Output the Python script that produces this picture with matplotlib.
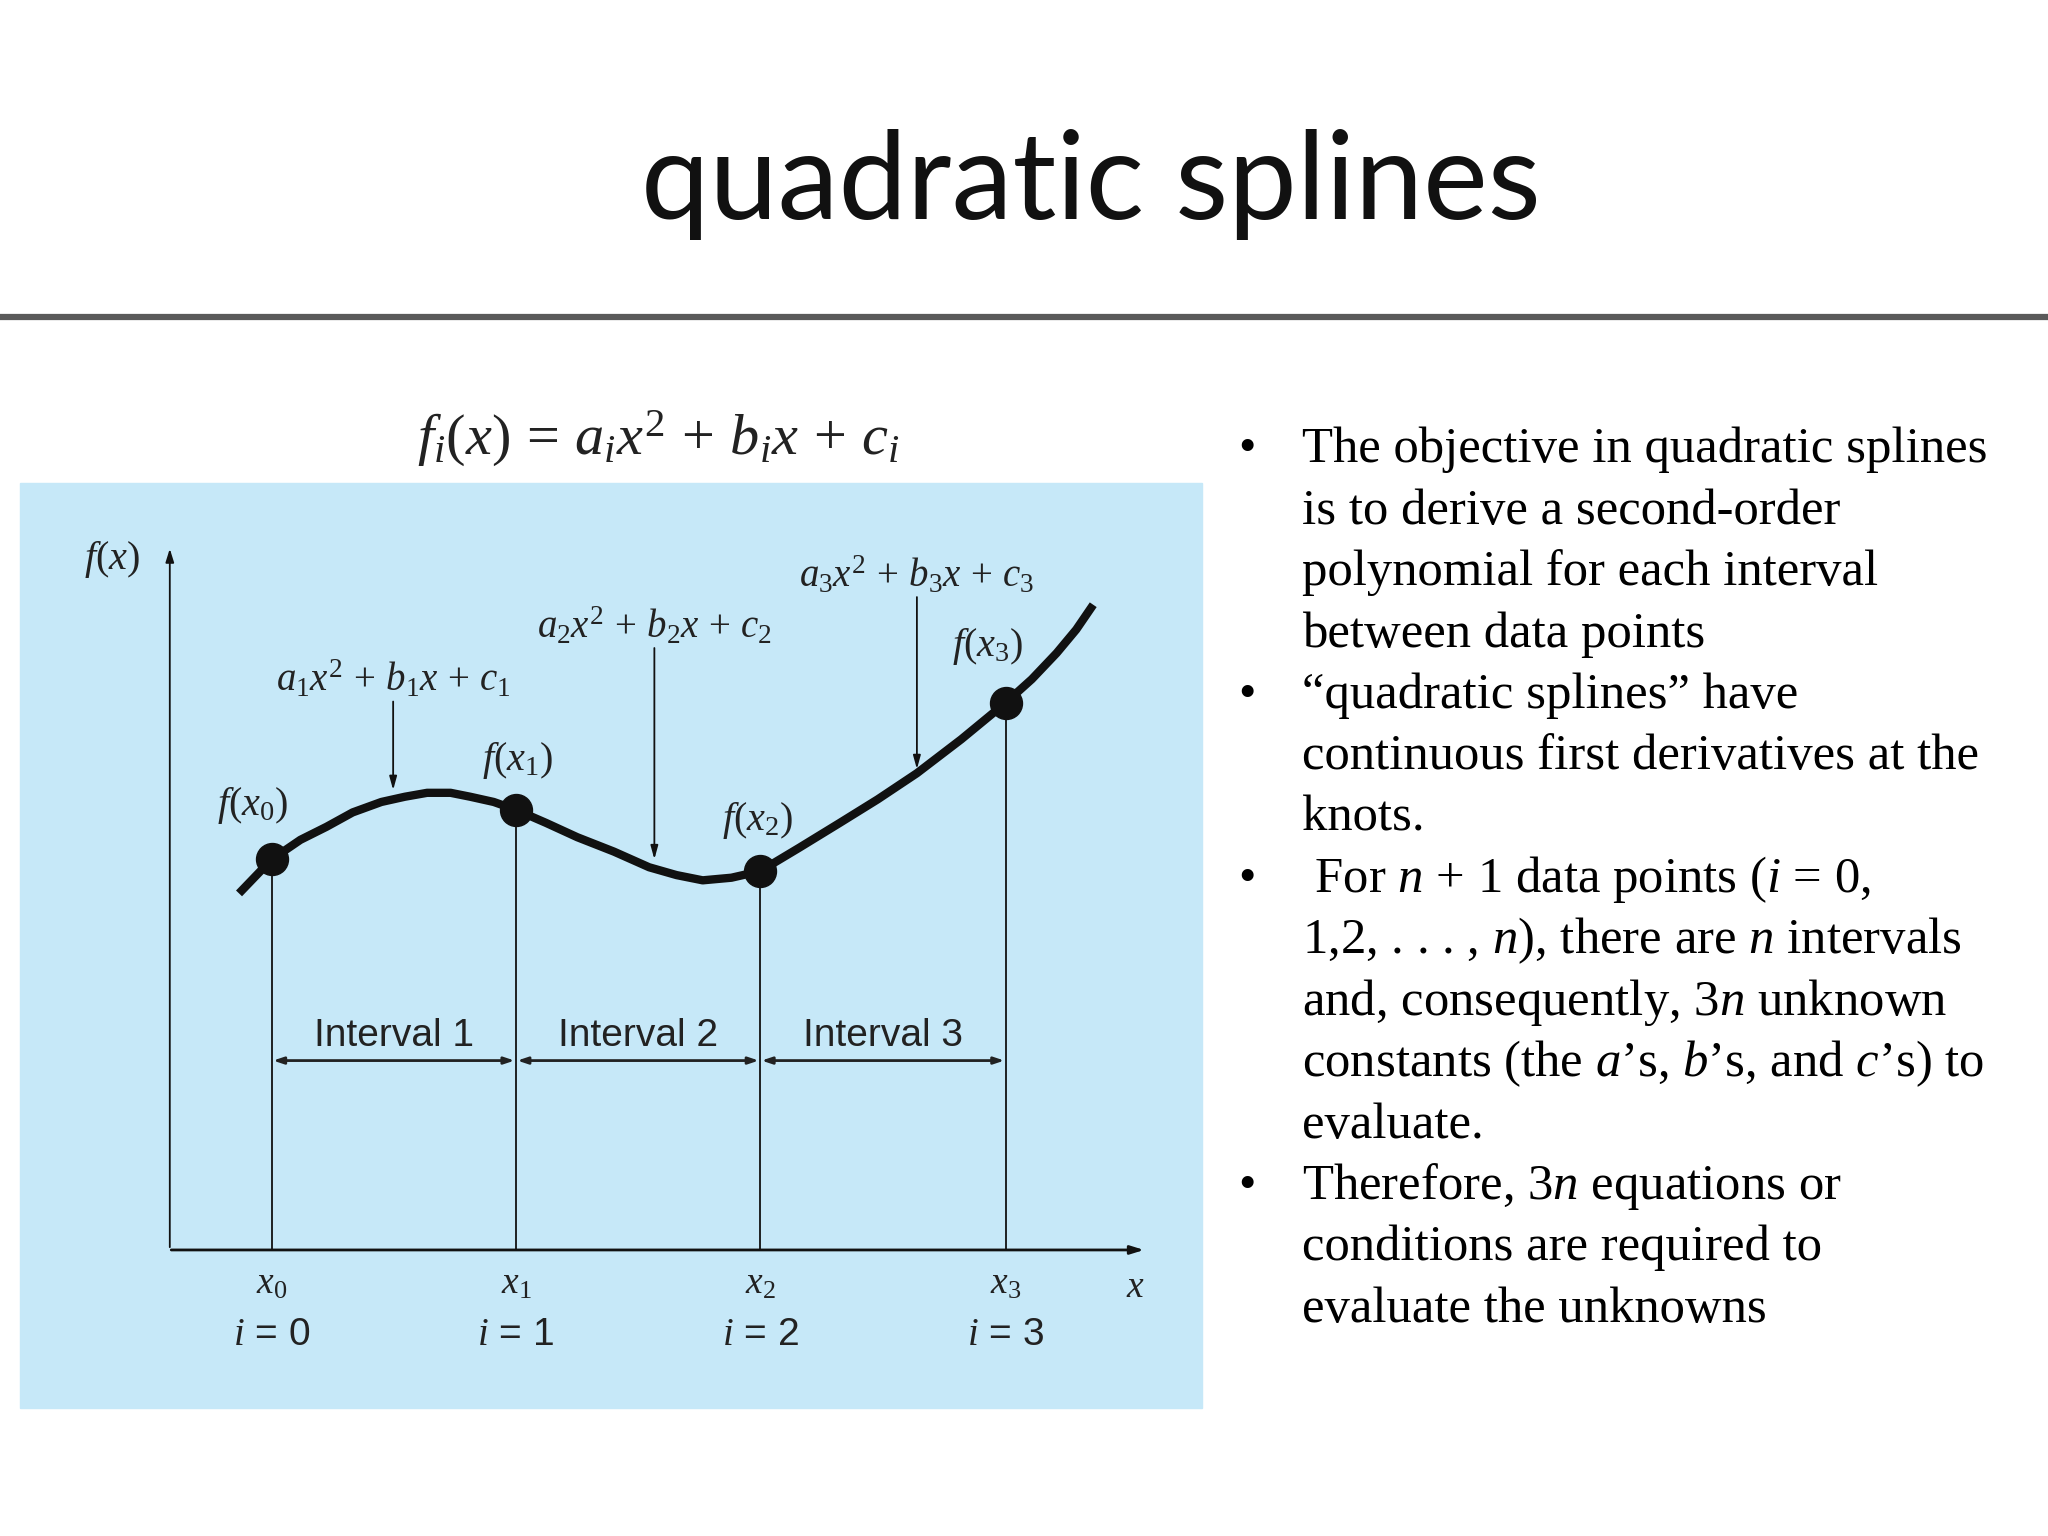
import numpy as np
import matplotlib.pyplot as plt

plt.rcParams['mathtext.fontset'] = 'custom'
plt.rcParams['mathtext.rm'] = 'Liberation Serif'
plt.rcParams['mathtext.it'] = 'Liberation Serif:italic'

# diagram data (slide coordinates, 1568 x 1176 layout)
knot_x = [208, 395, 582, 770]
knot_y = [658, 620, 667, 538]
knot_names = ['$x_0$', '$x_1$', '$x_2$', '$x_3$']
knot_index = ['$i$ = 0', '$i$ = 1', '$i$ = 2', '$i$ = 3']
fx_labels = ['$f(x_0)$', '$f(x_1)$', '$f(x_2)$', '$f(x_3)$']
fx_label_x = [193, 396, 580, 756]
fx_label_y = [617, 582, 628, 495]

curve_x = [183, 208, 230, 250, 270, 292, 310, 327, 345, 360, 378, 395, 418, 442, 470, 497,
           518, 538, 560, 582, 612, 643, 672, 702, 736, 770, 790, 809, 824, 837]
curve_y = [684, 658, 643, 633, 622, 614, 610, 607, 607, 610, 614, 620, 630, 641, 652, 664,
           670, 674, 672, 667, 649, 630, 612, 592, 566, 538, 520, 500, 482, 463]

poly_labels = [r'$a_1x^2 \,+\, b_1x \,+\, c_1$', r'$a_2x^2 \,+\, b_2x \,+\, c_2$',
               r'$a_3x^2 \,+\, b_3x \,+\, c_3$']
poly_x = [301, 501, 702]
poly_text_y = [520, 479, 440]
poly_tip_y = [607, 660, 591]

interval_labels = ['Interval 1', 'Interval 2', 'Interval 3']

bullets = [
    ('•', 'The objective in quadratic splines'),
    ('', 'is to derive a second-order'),
    ('', 'polynomial for each interval'),
    ('', 'between data points'),
    ('•', '“quadratic splines” have'),
    ('', 'continuous first derivatives at the'),
    ('', 'knots.'),
    ('•', ' For $n$ + 1 data points ($i$ = 0,'),
    ('', '1,2, . . . , $n$), there are $n$ intervals'),
    ('', 'and, consequently, 3$n$ unknown'),
    ('', 'constants (the $a$’s, $b$’s, and $c$’s) to'),
    ('', 'evaluate.'),
    ('•', 'Therefore, 3$n$ equations or'),
    ('', 'conditions are required to'),
    ('', 'evaluate the unknowns'),
]

fig = plt.figure(figsize=(20.48, 15.36), dpi=100)
ax = fig.add_axes([0, 0, 1, 1])
ax.set_xlim(0, 1568)
ax.set_ylim(1176, 0)
ax.axis('off')

# title and rule
ax.text(835, 168, 'quadratic splines', ha='center', va='baseline',
        fontsize=88, family='Lato', color='#111111')
ax.plot([0, 1568], [243, 243], color='#5a5a5a', lw=4.5, solid_capstyle='butt')

# formula above the figure
ax.text(504, 348, r'$f_i(x) \,=\, a_i x^2 \,+\, b_i x \,+\, c_i$', ha='center', va='baseline',
        fontsize=42, color='#222222')

# blue panel
ax.add_patch(plt.Rectangle((15, 370), 905, 708, color='#c6e8f8', zorder=0))

thin = dict(color='#111111', lw=1.3)
# axes of the sketch
ax.annotate('', xy=(130, 418), xytext=(130, 957),
            arrowprops=dict(arrowstyle='-|>,head_length=0.8,head_width=0.25', color='#111111', lw=1.3))
ax.annotate('', xy=(878, 957), xytext=(129, 957),
            arrowprops=dict(arrowstyle='-|>,head_length=0.8,head_width=0.25', color='#111111', lw=2.0))
ax.text(86, 428, '$f(x)$', ha='center', va='center', fontsize=29, color='#222222')
ax.text(869, 985, '$x$', ha='center', va='center', fontsize=27, color='#222222')

# vertical lines at the knots
for kx, ky in zip(knot_x, knot_y):
    ax.plot([kx, kx], [957, ky], **thin)

# the spline itself
ax.plot(curve_x, curve_y, color='#111111', lw=6, solid_capstyle='butt', solid_joinstyle='round', zorder=3)
ax.plot(knot_x, knot_y, 'o', color='#111111', ms=23, zorder=4)

for lab, lx, ly in zip(fx_labels, fx_label_x, fx_label_y):
    ax.text(lx, ly, lab, ha='center', va='center', fontsize=29, color='#222222')

# polynomial labels with arrows
for lab, px, ty, tip in zip(poly_labels, poly_x, poly_text_y, poly_tip_y):
    ax.text(px, ty, lab, ha='center', va='center', fontsize=28, color='#222222')
    ax.annotate('', xy=(px, tip), xytext=(px, ty + 15),
                arrowprops=dict(arrowstyle='-|>,head_length=0.8,head_width=0.22', color='#111111', lw=1.3))

# interval arrows
for k, lab in enumerate(interval_labels):
    x0, x1 = knot_x[k], knot_x[k + 1]
    ax.annotate('', xy=(x1, 812), xytext=(x0, 812),
                arrowprops=dict(arrowstyle='<|-|>,head_length=0.6,head_width=0.2',
                                color='#222222', lw=2, shrinkA=1, shrinkB=1))
    ax.text((x0 + x1) / 2, 793, lab, ha='center', va='center', fontsize=28,
            family='Liberation Sans', color='#222222')

for kx, nm, idx in zip(knot_x, knot_names, knot_index):
    ax.text(kx, 983, nm, ha='center', va='center', fontsize=27, color='#222222')
    ax.text(kx, 1022, idx, ha='center', va='center', fontsize=28,
            family='Liberation Sans', color='#222222')

# bullet text on the right
for k, (b, line) in enumerate(bullets):
    y = 354 + 47 * k
    if b:
        ax.text(955, y, b, ha='center', va='baseline', fontsize=36, family='Liberation Serif')
    ax.text(997, y, line, ha='left', va='baseline', fontsize=36.5, family='Liberation Serif')

fig.savefig('out.png', dpi=100)
